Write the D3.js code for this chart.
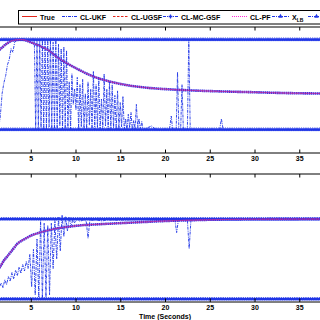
<!DOCTYPE html>
<html>
<head>
<meta charset="utf-8">
<script src="https://cdn.jsdelivr.net/npm/d3@7"></script>
<style>
  body { margin: 0; background: #fff; }
  svg { display: block; }
  text { font-family: Arial, "Liberation Sans", sans-serif; font-weight: bold; fill: #000; }
</style>
</head>
<body>
<svg width="320" height="320"></svg>
<script>
// time axis (0 and 40 sit outside the cropped view)
const timeTicks = [5, 10, 15, 20, 25, 30, 35];
const legendNames = ['True', 'CL-UKF', 'CL-UGSF', 'CL-MC-GSF', 'CL-PF', 'X', ''];

// bounds (lower / upper) of both states
const boundsTop = [0, 1];
const boundsBot = [0, 1];

// upper panel: true state and filter estimates [t, value]
const trueTop = [[0, 0.62], [1, 0.82], [2, 0.93], [3, 0.99], [4, 1.0], [5, 0.97], [6, 0.93], [7, 0.88],
  [8, 0.80], [9, 0.74], [10, 0.685], [12, 0.59], [14, 0.53], [16, 0.49], [18, 0.465], [20, 0.45],
  [23, 0.435], [26, 0.425], [30, 0.415], [34, 0.405], [40, 0.40]];

const ukfTop = [[0, 0], [1.4, 0], [1.6, 0.15], [1.8, 0.4], [2.0, 0.52], [2.2, 0.6], [2.4, 0.72], [2.6, 0.78],
  [2.8, 0.9], [3.0, 0.86], [3.2, 0.97], [3.5, 1.0], [4.0, 1.0], [4.5, 0.99], [5.0, 0.97], [5.3, 0.96],
  [5.4, 1.0], [5.55, 0], [5.7, 1.0], [5.85, 0], [6.0, 1.0], [6.15, 0.02], [6.3, 1.0], [6.45, 0],
  [6.6, 1.0], [6.75, 0], [6.9, 1.0], [7.05, 0.03], [7.2, 1.0], [7.35, 0], [7.5, 0.97], [7.65, 0],
  [7.8, 1.0], [7.95, 0], [8.1, 0.95], [8.25, 0.04], [8.4, 0.9], [8.55, 0], [8.7, 0.92], [8.85, 0],
  [9.0, 0.88], [9.15, 0.02], [9.3, 0.53], [9.45, 0], [9.6, 0.62], [9.75, 0.28], [9.9, 0.45], [10.05, 0.22],
  [10.2, 0.58], [10.35, 0], [10.5, 0.5], [10.65, 0.03], [10.8, 0.56], [10.95, 0], [11.1, 0.4], [11.25, 0],
  [11.4, 0.53], [11.55, 0.05], [11.7, 0.45], [11.85, 0], [12.0, 0.65], [12.15, 0], [12.3, 0.5], [12.45, 0.02],
  [12.6, 0.58], [12.75, 0], [12.9, 0.34], [13.05, 0], [13.2, 0.62], [13.35, 0.04], [13.5, 0.45], [13.65, 0],
  [13.8, 0.53], [13.95, 0], [14.1, 0.5], [14.25, 0.02], [14.4, 0.38], [14.55, 0], [14.7, 0.43], [14.85, 0],
  [15.0, 0.3], [15.15, 0.03], [15.3, 0.37], [15.45, 0], [15.6, 0.12], [15.75, 0], [15.9, 0.17], [16.05, 0.02],
  [16.2, 0.19], [16.35, 0], [16.5, 0.1], [16.65, 0], [16.8, 0.28], [16.95, 0.02], [17.1, 0.12], [17.25, 0],
  [17.4, 0.09], [17.55, 0], [18.5, 0.04], [19.0, 0], [20.5, 0], [20.7, 0.15], [20.85, 0], [21.25, 0],
  [21.4, 0.64], [21.55, 0], [21.75, 0], [21.9, 0.5], [22.05, 0], [22.5, 0], [22.66, 1.0], [22.82, 0],
  [26.1, 0], [26.3, 0.12], [26.5, 0], [40, 0]];

// lower panel
const trueBot = [[0, 0.15], [1, 0.3], [1.56, 0.40], [2, 0.48], [2.5, 0.55], [3, 0.62], [3.5, 0.69],
  [4, 0.73], [4.5, 0.76], [5, 0.79], [6, 0.83], [7, 0.86], [8, 0.885], [9, 0.90], [10.5, 0.92],
  [12.7, 0.935], [15, 0.948], [17.2, 0.96], [19.4, 0.972], [24, 0.988], [30, 0.997], [40, 1.0]];

const ukfBot = [[0, 0.1], [0.5, 0.05], [1.0, 0.12], [1.3, 0.08], [1.5, 0.15], [1.7, 0.2], [1.9, 0.14],
  [2.1, 0.24], [2.3, 0.18], [2.5, 0.28], [2.7, 0.22], [2.9, 0.33], [3.1, 0.25], [3.3, 0.36], [3.5, 0.29],
  [3.7, 0.40], [3.9, 0.32], [4.1, 0.43], [4.3, 0.35], [4.5, 0.47], [4.7, 0.38], [4.9, 0.56], [5.1, 0.15],
  [5.3, 0.62], [5.5, 0.05], [5.7, 0.75], [5.9, 0.02], [6.1, 0.98], [6.3, 0.0], [6.5, 0.95], [6.7, 0.02],
  [6.9, 0.92], [7.1, 0.05], [7.3, 0.95], [7.5, 0.38], [7.7, 0.98], [7.9, 0.5], [8.1, 1.02], [8.3, 0.6],
  [8.5, 1.05], [8.7, 0.78], [8.9, 1.03], [9.1, 0.85], [9.3, 1.02], [9.5, 0.9], [9.7, 1.0], [9.9, 0.95],
  [10.2, 1.0], [10.5, 0.97], [10.9, 0.99], [11.2, 0.97], [11.4, 0.76], [11.6, 0.98], [12.2, 0.99],
  [13, 0.975], [13.5, 0.99], [14.5, 0.985], [16, 0.99], [18, 0.995], [21.1, 0.995], [21.3, 0.83],
  [21.5, 0.99], [22.5, 0.99], [22.7, 0.63], [22.9, 0.99], [26, 1.0], [40, 1.0]];

const BLUE = '#1f35e6';
const RED = '#e3261c';
const MAG = '#ff2bd6';

const svg = d3.select('svg');
const x = d3.scaleLinear().domain([0, 40]).range([-14, 344]);

const yTop = d3.scaleLinear().domain([-0.26, 1.14]).range([153, 27]);
const yBot = d3.scaleLinear().domain([-0.0375, 1.5625]).range([302, 174]);

function panel(y, bounds, truth, ukf, id) {
  const [y0, y1] = y.range();
  svg.append('clipPath').attr('id', id)
    .append('rect').attr('x', 0).attr('y', y1).attr('width', 320).attr('height', y0 - y1);
  const g = svg.append('g').attr('clip-path', `url(#${id})`);

  // bound lines with triangle markers
  const tri = d3.symbol().type(d3.symbolTriangle).size(5);
  bounds.forEach((b) => {
    g.append('line')
      .attr('x1', x(0)).attr('x2', x(40))
      .attr('y1', y(b)).attr('y2', y(b))
      .attr('stroke', BLUE).attr('stroke-width', 2);
    g.append('g').selectAll('path')
      .data(d3.range(0, 40.01, 0.25))
      .join('path')
      .attr('d', tri)
      .attr('transform', d => `translate(${x(d)},${y(b)})`)
      .attr('fill', 'none').attr('stroke', BLUE).attr('stroke-width', 0.7);
  });

  const smooth = d3.line().x(d => x(d[0])).y(d => y(d[1])).curve(d3.curveMonotoneX);
  const sharp = d3.line().x(d => x(d[0])).y(d => y(d[1]));

  // CL-UKF
  g.append('path').attr('d', sharp(ukf))
    .attr('fill', 'none').attr('stroke', BLUE).attr('stroke-width', 0.9)
    .attr('stroke-dasharray', '3,1,1,1');

  // CL-MC-GSF (dense markers -> thick blue band)
  g.append('path').attr('d', smooth(truth))
    .attr('fill', 'none').attr('stroke', '#3a33e0').attr('stroke-width', 2.6)
    .attr('stroke-dasharray', '1.6,0.5');
  // CL-PF
  g.append('path').attr('d', smooth(truth))
    .attr('fill', 'none').attr('stroke', MAG).attr('stroke-width', 1)
    .attr('stroke-dasharray', '1,1').attr('opacity', 0.8);
  // CL-UGSF
  g.append('path').attr('d', smooth(truth))
    .attr('fill', 'none').attr('stroke', RED).attr('stroke-width', 0.8)
    .attr('stroke-dasharray', '3,1.5').attr('opacity', 0.6);
  // True
  g.append('path').attr('d', smooth(truth))
    .attr('fill', 'none').attr('stroke', '#9a2bc0').attr('stroke-width', 0.8).attr('opacity', 0.7);

  // axes (frame lines across the full width)
  const axTop = svg.append('g').attr('transform', `translate(0,${y1})`)
    .call(d3.axisTop(x).tickValues(timeTicks).tickSize(-3.5).tickSizeOuter(0).tickFormat(''));
  const axBot = svg.append('g').attr('transform', `translate(0,${y0})`)
    .call(d3.axisBottom(x).tickValues(timeTicks).tickSize(-3.5).tickSizeOuter(0).tickPadding(3));
  [axTop, axBot].forEach(a => a.select('.domain').attr('d', `M${x(0)},0H${x(40)}`));
}

panel(yTop, boundsTop, trueTop, ukfTop, 'clipTop');
panel(yBot, boundsBot, trueBot, ukfBot, 'clipBot');

svg.selectAll('.domain, .tick line').attr('stroke', '#000').attr('stroke-width', 1);
svg.selectAll('.tick text').style('font-size', '7px').attr('fill', '#111');

svg.append('text')
  .attr('x', x(20)).attr('y', 318.5)
  .attr('text-anchor', 'middle')
  .style('font-size', '7px')
  .text('Time (Seconds)');

// legend
const lg = svg.append('g');
lg.append('rect').attr('x', 18.5).attr('y', 10.5).attr('width', 320).attr('height', 13.5)
  .attr('fill', '#fff').attr('stroke', '#000').attr('stroke-width', 1);

const legendX = [22, 62, 113, 163, 232, 272, 308];
const legendStroke = [RED, BLUE, RED, BLUE, MAG, BLUE, BLUE];
const legendDash = [null, '3,1,1,1', '2.5,1.5', '3,1,1,1', '1,1', '3,1,1,1', '3,1,1,1'];
const ly = 16.5;
legendNames.forEach((name, i) => {
  const x0 = legendX[i];
  const len = i >= 5 ? 17 : 15;
  lg.append('line').attr('x1', x0).attr('x2', x0 + len).attr('y1', ly).attr('y2', ly)
    .attr('stroke', legendStroke[i]).attr('stroke-width', 1)
    .attr('stroke-dasharray', legendDash[i]);
  if (i === 3) {
    lg.append('path').attr('d', d3.symbol().type(d3.symbolCross).size(8))
      .attr('transform', `translate(${x0 + len / 2},${ly})`).attr('fill', BLUE);
  }
  if (i >= 5) {
    lg.append('path').attr('d', d3.symbol().type(d3.symbolTriangle).size(9))
      .attr('transform', `translate(${x0 + len / 2},${ly})`).attr('fill', BLUE);
  }
  if (name) {
    const t = lg.append('text').attr('x', x0 + len + 3).attr('y', 19.5).style('font-size', '7px');
    t.append('tspan').text(name);
    if (i === 5) {
      t.append('tspan').attr('dy', 2.5).style('font-size', '5px').text('LB');
    }
  }
});
</script>
</body>
</html>
